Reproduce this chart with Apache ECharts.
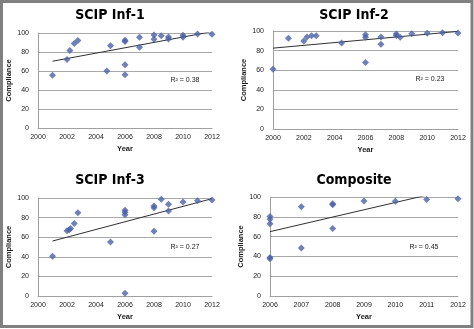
<!DOCTYPE html>
<html>
<head>
<meta charset="utf-8">
<script src="https://cdn.jsdelivr.net/npm/echarts@6/dist/echarts.min.js"></script>
<style>
  html, body { margin: 0; padding: 0; background: #fff; }
  #chart { width: 474px; height: 329px; }
</style>
</head>
<body>
<div id="chart"></div>
<script>
// panel titles and fit labels
const panelTitles = ['SCIP Inf-1', 'SCIP Inf-2', 'SCIP Inf-3', 'Composite'];
const rSquared = ['R\u00b2 = 0.38', 'R\u00b2 = 0.23', 'R\u00b2 = 0.27', 'R\u00b2 = 0.45'];

// SCIP Inf-1
const inf1Years = [2001, 2002, 2002.2, 2002.5, 2002.75, 2004.75, 2005, 2006, 2006, 2006, 2006, 2007, 2007, 2008, 2008, 2008.5, 2009, 2009, 2010, 2010, 2011, 2012];
const inf1Values = [55.5, 72, 81.5, 89, 92, 60, 86.5, 66.5, 56, 92.3, 91, 95.5, 85, 98, 93.4, 97, 95.8, 93.7, 97.6, 95.5, 98.9, 98.6];
const inf1Trend = [[2001, 70.3], [2012, 101.4]];

// SCIP Inf-2
const inf2Years = [2000, 2001, 2002, 2002.2, 2002.5, 2002.8, 2004.45, 2006, 2006, 2006, 2007, 2007, 2008, 2008, 2008.25, 2009, 2010, 2011, 2012];
const inf2Values = [61, 92.5, 89.7, 93.8, 95.2, 95.2, 87.7, 67.8, 96.2, 93.5, 93.8, 86.6, 97, 95.5, 93.5, 97.3, 97.6, 98.3, 98];
const inf2Trend = [[2000, 82.5], [2012, 99.6]];

// SCIP Inf-3
const inf3Years = [2001, 2002, 2002.15, 2002.25, 2002.5, 2002.75, 2005, 2006, 2006, 2006, 2006, 2008, 2008, 2008, 2008.5, 2009, 2009, 2010, 2011, 2012];
const inf3Values = [40.5, 66.7, 67.7, 69, 74.1, 85, 55, 87.4, 85.4, 83, 2.7, 91.8, 90.1, 66, 98.6, 93.5, 86.7, 95.9, 97.3, 98];
const inf3Trend = [[2001, 56.1], [2012, 99.3]];

// Composite
const compYears = [2006, 2006, 2006, 2006, 2006, 2007, 2007, 2008, 2008, 2008, 2009, 2010, 2011, 2012];
const compValues = [80.3, 77.6, 72.9, 39, 37.6, 90.2, 48.5, 93.2, 92.2, 68.1, 95.9, 95.6, 97.6, 98.3];
const compTrend = [[2006, 65], [2012, 109.2]];

// axis ranges
const yearRanges = [[2000, 2012, 2], [2000, 2012, 2], [2000, 2012, 2], [2006, 2012, 1]];
const yMin = 0, yMax = 100, yStep = 20;

const panels = [
  {years: inf1Years, values: inf1Values, trend: inf1Trend},
  {years: inf2Years, values: inf2Values, trend: inf2Trend},
  {years: inf3Years, values: inf3Values, trend: inf3Trend},
  {years: compYears, values: compValues, trend: compTrend}
];

// layout of each plot area (pixels)
const grids = [
  {left: 38, right: 262, top: 33, bottom: 201},
  {left: 273, right: 16, top: 31, bottom: 200},
  {left: 38, right: 262, top: 198, bottom: 33},
  {left: 270, right: 16, top: 197, bottom: 33}
];
const titlePos = [[110, 15], [354, 15], [110, 180], [354, 180]];
const r2Pos = [[185, 80], [430, 79], [185, 247], [424, 247]];

const textColor = '#1a1a1a';
const markerColor = '#4A62A6';
const titleFont = "'Liberation Sans Narrow', 'DejaVu Sans Condensed', 'Liberation Sans', sans-serif";

const chart = echarts.init(document.getElementById('chart'));

const xAxis = yearRanges.map((r, i) => ({
  type: 'value',
  gridIndex: i,
  min: r[0],
  max: r[1],
  interval: r[2],
  name: 'Year',
  nameLocation: 'middle',
  nameGap: 17,
  nameTextStyle: {fontSize: 7.5, fontWeight: 'bold', color: textColor, fontFamily: 'Liberation Sans'},
  axisLine: {show: true, lineStyle: {color: '#a0a0a0'}},
  axisTick: {show: false},
  splitLine: {show: false},
  axisLabel: {fontSize: 7, color: textColor, margin: 6, fontFamily: 'Liberation Sans', formatter: v => String(v)}
}));

const yAxis = yearRanges.map((r, i) => ({
  type: 'value',
  gridIndex: i,
  min: yMin,
  max: yMax,
  interval: yStep,
  name: 'Compliance',
  nameLocation: 'middle',
  nameGap: 23,
  nameTextStyle: {fontSize: 7.5, fontWeight: 'bold', color: textColor, fontFamily: 'Liberation Sans'},
  axisLine: {show: true, lineStyle: {color: '#a0a0a0'}},
  axisTick: {show: false},
  splitLine: {show: true, lineStyle: {color: '#a8a8a8'}},
  axisLabel: {fontSize: 7, color: textColor, margin: 9, fontFamily: 'Liberation Sans'}
}));

const series = [];
panels.forEach((p, i) => {
  series.push({
    type: 'scatter',
    xAxisIndex: i,
    yAxisIndex: i,
    symbol: 'diamond',
    symbolSize: 7,
    itemStyle: {color: markerColor},
    data: p.years.map((y, k) => [y, p.values[k]])
  });
  series.push({
    type: 'line',
    xAxisIndex: i,
    yAxisIndex: i,
    symbol: 'none',
    clip: true,
    lineStyle: {color: '#303030', width: 1},
    data: p.trend,
    z: 1
  });
});

const graphic = [];
panelTitles.forEach((t, i) => {
  graphic.push({
    type: 'text',
    x: titlePos[i][0],
    y: titlePos[i][1],
    style: {
      text: t,
      fontSize: 14,
      fontWeight: 'bold',
      fontFamily: titleFont,
      fill: '#000',
      textAlign: 'center',
      textVerticalAlign: 'middle'
    }
  });
  graphic.push({
    type: 'text',
    x: r2Pos[i][0],
    y: r2Pos[i][1],
    style: {
      text: rSquared[i],
      fontSize: 7,
      fontFamily: 'Liberation Sans',
      fill: textColor,
      textAlign: 'center',
      textVerticalAlign: 'middle'
    }
  });
});
// outer frame
graphic.push({
  type: 'rect',
  shape: {x: 1.5, y: 1.5, width: 470.5, height: 325},
  style: {fill: 'none', stroke: '#808080', lineWidth: 3}
});

chart.setOption({
  animation: false,
  backgroundColor: '#fff',
  grid: grids,
  xAxis: xAxis,
  yAxis: yAxis,
  series: series,
  graphic: graphic
});
</script>
</body>
</html>
